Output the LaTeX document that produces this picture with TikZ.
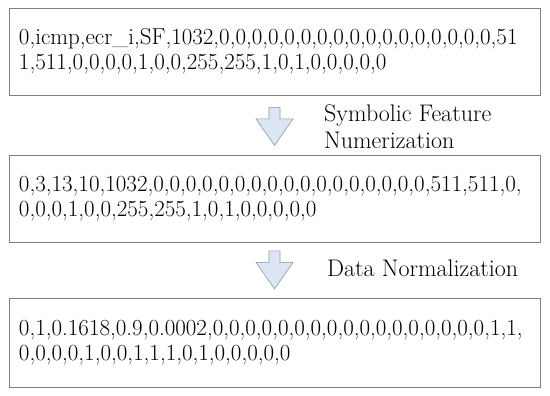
\documentclass[tikz,border=0pt]{standalone}
\usetikzlibrary{positioning}
\definecolor{framegray}{HTML}{808080}
\definecolor{arrowfill}{HTML}{DCE6F2}
\definecolor{arrowline}{HTML}{8797A9}
\tikzset{
  databox/.style={draw=framegray,line width=0.8pt,minimum width=531pt,minimum height=87pt,
    text width=511pt,inner xsep=10pt,align=left,font=\fontsize{23}{25}\selectfont},
  blockarrow/.style={draw=arrowline,fill=arrowfill,line width=0.6pt,line join=miter},
  steplabel/.style={anchor=west,align=left,inner sep=0pt,font=\fontsize{24}{27}\selectfont},
}

\begin{document}
\begin{tikzpicture}[x=1pt,y=-1pt]
    \useasboundingbox (0,0) rectangle (550,396);

    \node[databox] (raw) at (274.5,51.5) {0,icmp,ecr\_i,SF,1032,0,0,0,0,0,0,0,0,0,0,0,0,0,0,0,0,0,51\\1,511,0,0,0,0,1,0,0,255,255,1,0,1,0,0,0,0,0};
    \node[databox] (numer) at (274.5,198.5) {0,3,13,10,1032,0,0,0,0,0,0,0,0,0,0,0,0,0,0,0,0,0,511,511,0,\\0,0,0,1,0,0,255,255,1,0,1,0,0,0,0,0};
    \node[databox,minimum height=89pt] (norm) at (274.5,342.5) {0,1,0.1618,0.9,0.0002,0,0,0,0,0,0,0,0,0,0,0,0,0,0,0,0,0,1,1,\\0,0,0,0,1,0,0,1,1,1,0,1,0,0,0,0,0};

    % block arrows between the boxes
    \coordinate[below=12pt of raw] (numtop);
    \coordinate[below=8.5pt of numer] (normtop);
    \foreach \top in {numtop,normtop}
      \draw[blockarrow] (\top) ++(-5.5,0) -- ++(11,0) -- ++(0,11.5) -- ++(13,0)
        -- ++(-18.5,26.5) -- ++(-18.5,-26.5) -- ++(13,0) -- cycle;

    \node[steplabel] (numtext) at (324,126.5) {Symbolic Feature\\Numerization};
    \node[steplabel] (normtext) at (327,268) {Data Normalization};
  \end{tikzpicture}
\end{document}
